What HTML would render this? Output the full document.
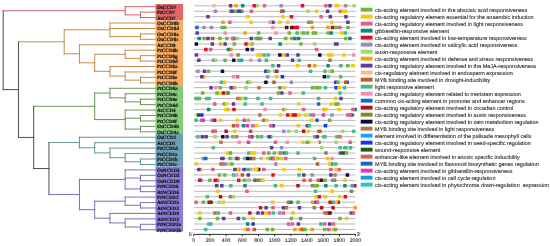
<!DOCTYPE html>
<html lang="en"><head><meta charset="utf-8"><title>CCD promoter cis-acting elements</title>
<style>html,body{margin:0;padding:0;background:#fff}body{width:550px;height:246px;overflow:hidden}svg{display:block}text{text-rendering:geometricPrecision}.lb{font-family:"Liberation Serif",serif;font-weight:bold;font-size:5px;fill:#111;stroke:#111;stroke-width:0.18px}.lg{font-family:"Liberation Sans",sans-serif;font-size:5.46px;fill:#1a1a1a;stroke:#1a1a1a;stroke-width:0.08px;white-space:pre}.ax{font-family:"Liberation Sans",sans-serif;font-size:5.2px;fill:#1a1a1a;stroke:#1a1a1a;stroke-width:0.08px}</style></head><body>
<svg width="550" height="246" viewBox="0 0 550 246">
<rect width="550" height="246" fill="#fff"/>
<g fill="none" stroke-width="0.9" stroke-linecap="square">
<line x1="140.45" y1="12.14" x2="140.45" y2="17.58" stroke="#c4505c"/>
<line x1="140.45" y1="12.14" x2="156.00" y2="12.14" stroke="#c4505c"/>
<line x1="140.45" y1="17.58" x2="156.00" y2="17.58" stroke="#c4505c"/>
<line x1="125.20" y1="6.70" x2="125.20" y2="14.86" stroke="#c4505c"/>
<line x1="125.20" y1="6.70" x2="156.00" y2="6.70" stroke="#c4505c"/>
<line x1="125.20" y1="14.86" x2="140.45" y2="14.86" stroke="#c4505c"/>
<line x1="140.45" y1="33.90" x2="140.45" y2="39.34" stroke="#c08038"/>
<line x1="140.45" y1="33.90" x2="156.00" y2="33.90" stroke="#c08038"/>
<line x1="140.45" y1="39.34" x2="156.00" y2="39.34" stroke="#c08038"/>
<line x1="109.95" y1="23.02" x2="109.95" y2="36.62" stroke="#c08038"/>
<line x1="109.95" y1="23.02" x2="156.00" y2="23.02" stroke="#c08038"/>
<line x1="109.95" y1="28.46" x2="156.00" y2="28.46" stroke="#c08038"/>
<line x1="109.95" y1="36.62" x2="140.45" y2="36.62" stroke="#c08038"/>
<line x1="140.45" y1="55.66" x2="140.45" y2="61.10" stroke="#c08038"/>
<line x1="140.45" y1="55.66" x2="156.00" y2="55.66" stroke="#c08038"/>
<line x1="140.45" y1="61.10" x2="156.00" y2="61.10" stroke="#c08038"/>
<line x1="125.20" y1="50.22" x2="125.20" y2="58.38" stroke="#c08038"/>
<line x1="125.20" y1="50.22" x2="156.00" y2="50.22" stroke="#c08038"/>
<line x1="125.20" y1="58.38" x2="140.45" y2="58.38" stroke="#c08038"/>
<line x1="140.45" y1="77.42" x2="140.45" y2="82.86" stroke="#c08038"/>
<line x1="140.45" y1="77.42" x2="156.00" y2="77.42" stroke="#c08038"/>
<line x1="140.45" y1="82.86" x2="156.00" y2="82.86" stroke="#c08038"/>
<line x1="125.20" y1="71.98" x2="125.20" y2="80.14" stroke="#c08038"/>
<line x1="125.20" y1="71.98" x2="156.00" y2="71.98" stroke="#c08038"/>
<line x1="125.20" y1="80.14" x2="140.45" y2="80.14" stroke="#c08038"/>
<line x1="109.95" y1="66.54" x2="109.95" y2="76.06" stroke="#c08038"/>
<line x1="109.95" y1="66.54" x2="156.00" y2="66.54" stroke="#c08038"/>
<line x1="109.95" y1="76.06" x2="125.20" y2="76.06" stroke="#c08038"/>
<line x1="94.70" y1="54.30" x2="94.70" y2="71.30" stroke="#c08038"/>
<line x1="94.70" y1="54.30" x2="125.20" y2="54.30" stroke="#c08038"/>
<line x1="94.70" y1="71.30" x2="109.95" y2="71.30" stroke="#c08038"/>
<line x1="79.45" y1="44.78" x2="79.45" y2="62.80" stroke="#c08038"/>
<line x1="79.45" y1="44.78" x2="156.00" y2="44.78" stroke="#c08038"/>
<line x1="79.45" y1="62.80" x2="94.70" y2="62.80" stroke="#c08038"/>
<line x1="64.20" y1="29.82" x2="64.20" y2="53.79" stroke="#c08038"/>
<line x1="64.20" y1="29.82" x2="109.95" y2="29.82" stroke="#c08038"/>
<line x1="64.20" y1="53.79" x2="79.45" y2="53.79" stroke="#c08038"/>
<line x1="140.45" y1="99.18" x2="140.45" y2="104.62" stroke="#5a8a42"/>
<line x1="140.45" y1="99.18" x2="156.00" y2="99.18" stroke="#5a8a42"/>
<line x1="140.45" y1="104.62" x2="156.00" y2="104.62" stroke="#5a8a42"/>
<line x1="125.20" y1="93.74" x2="125.20" y2="101.90" stroke="#5a8a42"/>
<line x1="125.20" y1="93.74" x2="156.00" y2="93.74" stroke="#5a8a42"/>
<line x1="125.20" y1="101.90" x2="140.45" y2="101.90" stroke="#5a8a42"/>
<line x1="109.95" y1="88.30" x2="109.95" y2="97.82" stroke="#5a8a42"/>
<line x1="109.95" y1="88.30" x2="156.00" y2="88.30" stroke="#5a8a42"/>
<line x1="109.95" y1="97.82" x2="125.20" y2="97.82" stroke="#5a8a42"/>
<line x1="140.45" y1="115.50" x2="140.45" y2="120.94" stroke="#5a8a42"/>
<line x1="140.45" y1="115.50" x2="156.00" y2="115.50" stroke="#5a8a42"/>
<line x1="140.45" y1="120.94" x2="156.00" y2="120.94" stroke="#5a8a42"/>
<line x1="140.45" y1="126.38" x2="140.45" y2="131.82" stroke="#5a8a42"/>
<line x1="140.45" y1="126.38" x2="156.00" y2="126.38" stroke="#5a8a42"/>
<line x1="140.45" y1="131.82" x2="156.00" y2="131.82" stroke="#5a8a42"/>
<line x1="125.20" y1="110.06" x2="125.20" y2="129.10" stroke="#5a8a42"/>
<line x1="125.20" y1="110.06" x2="156.00" y2="110.06" stroke="#5a8a42"/>
<line x1="125.20" y1="118.22" x2="140.45" y2="118.22" stroke="#5a8a42"/>
<line x1="125.20" y1="129.10" x2="140.45" y2="129.10" stroke="#5a8a42"/>
<line x1="94.70" y1="93.06" x2="94.70" y2="119.58" stroke="#5a8a42"/>
<line x1="94.70" y1="93.06" x2="109.95" y2="93.06" stroke="#5a8a42"/>
<line x1="94.70" y1="119.58" x2="125.20" y2="119.58" stroke="#5a8a42"/>
<line x1="140.45" y1="159.02" x2="140.45" y2="164.46" stroke="#558c8c"/>
<line x1="140.45" y1="159.02" x2="156.00" y2="159.02" stroke="#558c8c"/>
<line x1="140.45" y1="164.46" x2="156.00" y2="164.46" stroke="#558c8c"/>
<line x1="125.20" y1="153.58" x2="125.20" y2="161.74" stroke="#558c8c"/>
<line x1="125.20" y1="153.58" x2="156.00" y2="153.58" stroke="#558c8c"/>
<line x1="125.20" y1="161.74" x2="140.45" y2="161.74" stroke="#558c8c"/>
<line x1="109.95" y1="148.14" x2="109.95" y2="157.66" stroke="#558c8c"/>
<line x1="109.95" y1="148.14" x2="156.00" y2="148.14" stroke="#558c8c"/>
<line x1="109.95" y1="157.66" x2="125.20" y2="157.66" stroke="#558c8c"/>
<line x1="94.70" y1="142.70" x2="94.70" y2="152.90" stroke="#558c8c"/>
<line x1="94.70" y1="142.70" x2="156.00" y2="142.70" stroke="#558c8c"/>
<line x1="94.70" y1="152.90" x2="109.95" y2="152.90" stroke="#558c8c"/>
<line x1="79.45" y1="137.26" x2="79.45" y2="147.80" stroke="#558c8c"/>
<line x1="79.45" y1="137.26" x2="156.00" y2="137.26" stroke="#558c8c"/>
<line x1="79.45" y1="147.80" x2="94.70" y2="147.80" stroke="#558c8c"/>
<line x1="140.45" y1="175.34" x2="140.45" y2="180.78" stroke="#765eb0"/>
<line x1="140.45" y1="175.34" x2="156.00" y2="175.34" stroke="#765eb0"/>
<line x1="140.45" y1="180.78" x2="156.00" y2="180.78" stroke="#765eb0"/>
<line x1="140.45" y1="186.22" x2="140.45" y2="191.66" stroke="#765eb0"/>
<line x1="140.45" y1="186.22" x2="156.00" y2="186.22" stroke="#765eb0"/>
<line x1="140.45" y1="191.66" x2="156.00" y2="191.66" stroke="#765eb0"/>
<line x1="125.20" y1="169.90" x2="125.20" y2="188.94" stroke="#765eb0"/>
<line x1="125.20" y1="169.90" x2="156.00" y2="169.90" stroke="#765eb0"/>
<line x1="125.20" y1="178.06" x2="140.45" y2="178.06" stroke="#765eb0"/>
<line x1="125.20" y1="188.94" x2="140.45" y2="188.94" stroke="#765eb0"/>
<line x1="140.45" y1="202.54" x2="140.45" y2="207.98" stroke="#765eb0"/>
<line x1="140.45" y1="202.54" x2="156.00" y2="202.54" stroke="#765eb0"/>
<line x1="140.45" y1="207.98" x2="156.00" y2="207.98" stroke="#765eb0"/>
<line x1="125.20" y1="197.10" x2="125.20" y2="205.26" stroke="#765eb0"/>
<line x1="125.20" y1="197.10" x2="156.00" y2="197.10" stroke="#765eb0"/>
<line x1="125.20" y1="205.26" x2="140.45" y2="205.26" stroke="#765eb0"/>
<line x1="140.45" y1="224.30" x2="140.45" y2="229.74" stroke="#765eb0"/>
<line x1="140.45" y1="224.30" x2="156.00" y2="224.30" stroke="#765eb0"/>
<line x1="140.45" y1="229.74" x2="156.00" y2="229.74" stroke="#765eb0"/>
<line x1="125.20" y1="218.86" x2="125.20" y2="227.02" stroke="#765eb0"/>
<line x1="125.20" y1="218.86" x2="156.00" y2="218.86" stroke="#765eb0"/>
<line x1="125.20" y1="227.02" x2="140.45" y2="227.02" stroke="#765eb0"/>
<line x1="109.95" y1="213.42" x2="109.95" y2="222.94" stroke="#765eb0"/>
<line x1="109.95" y1="213.42" x2="156.00" y2="213.42" stroke="#765eb0"/>
<line x1="109.95" y1="222.94" x2="125.20" y2="222.94" stroke="#765eb0"/>
<line x1="94.70" y1="201.18" x2="94.70" y2="218.18" stroke="#765eb0"/>
<line x1="94.70" y1="201.18" x2="125.20" y2="201.18" stroke="#765eb0"/>
<line x1="94.70" y1="218.18" x2="109.95" y2="218.18" stroke="#765eb0"/>
<line x1="79.45" y1="179.42" x2="79.45" y2="209.68" stroke="#765eb0"/>
<line x1="79.45" y1="179.42" x2="125.20" y2="179.42" stroke="#765eb0"/>
<line x1="79.45" y1="209.68" x2="94.70" y2="209.68" stroke="#765eb0"/>
<line x1="48.95" y1="142.53" x2="48.95" y2="194.55" stroke="#3a3a3a"/>
<line x1="48.95" y1="142.53" x2="79.45" y2="142.53" stroke="#558c8c"/>
<line x1="48.95" y1="194.55" x2="79.45" y2="194.55" stroke="#765eb0"/>
<line x1="33.70" y1="106.32" x2="33.70" y2="168.54" stroke="#3a3a3a"/>
<line x1="33.70" y1="106.32" x2="94.70" y2="106.32" stroke="#5a8a42"/>
<line x1="33.70" y1="168.54" x2="48.95" y2="168.54" stroke="#3a3a3a"/>
<line x1="18.45" y1="41.81" x2="18.45" y2="137.43" stroke="#3a3a3a"/>
<line x1="18.45" y1="41.81" x2="64.20" y2="41.81" stroke="#c08038"/>
<line x1="18.45" y1="137.43" x2="33.70" y2="137.43" stroke="#3a3a3a"/>
<line x1="3.20" y1="10.78" x2="3.20" y2="89.62" stroke="#3a3a3a"/>
<line x1="3.20" y1="10.78" x2="125.20" y2="10.78" stroke="#c4505c"/>
<line x1="3.20" y1="89.62" x2="18.45" y2="89.62" stroke="#3a3a3a"/>
</g>
<rect x="155.50" y="4.00" width="27.60" height="16.30" fill="#e0666b"/>
<rect x="155.50" y="20.25" width="27.60" height="65.05" fill="#f6aa62"/>
<rect x="155.50" y="85.25" width="27.60" height="48.80" fill="#86c97a"/>
<rect x="155.50" y="134.01" width="27.60" height="32.55" fill="#6e9fb5"/>
<rect x="155.50" y="166.51" width="27.60" height="65.05" fill="#8a7cd3"/>
<g class="lb">
<text x="157.0" y="8.65">OsCCD7</text>
<text x="157.0" y="14.09">PtCCD7</text>
<text x="157.0" y="19.53">AtCCD7</text>
<text x="157.0" y="24.97">OsCCD8b</text>
<text x="157.0" y="30.41">OsCCD8d</text>
<text x="157.0" y="35.85">OsCCD8a</text>
<text x="157.0" y="41.29">OsCCD8c</text>
<text x="157.0" y="46.73">AtCCD8</text>
<text x="157.0" y="52.17">PtCCD8b</text>
<text x="157.0" y="57.61">PtCCD8g</text>
<text x="157.0" y="63.05">PtCCD8d</text>
<text x="157.0" y="68.49">PtCCD8a</text>
<text x="157.0" y="73.93">PtCCD8f</text>
<text x="157.0" y="79.37">PtCCD8e</text>
<text x="157.0" y="84.81">PtCCD8h</text>
<text x="157.0" y="90.25">PtCCD4a</text>
<text x="157.0" y="95.69">PtCCD4c</text>
<text x="157.0" y="101.13">PtCCD4e</text>
<text x="157.0" y="106.57">PtCCD4d</text>
<text x="157.0" y="112.01">AtCCD4</text>
<text x="157.0" y="117.45">PtCCD4b</text>
<text x="157.0" y="122.89">PtCCD4f</text>
<text x="157.0" y="128.33">OsCCD4b</text>
<text x="157.0" y="133.77">OsCCD4a</text>
<text x="157.0" y="139.21">OsCCD1</text>
<text x="157.0" y="144.65">AtCCD1</text>
<text x="157.0" y="150.09">PtCCD1d</text>
<text x="157.0" y="155.53">PtCCD1a</text>
<text x="157.0" y="160.97">PtCCD1b</text>
<text x="157.0" y="166.41">PtCCD1c</text>
<text x="157.0" y="171.85">OsNCED3</text>
<text x="157.0" y="177.29">OsNCED2</text>
<text x="157.0" y="182.73">OsNCED9</text>
<text x="157.0" y="188.17">PtNCED6</text>
<text x="157.0" y="193.61">AtNCED6</text>
<text x="157.0" y="199.05">PtNCED2</text>
<text x="157.0" y="204.49">AtNCED5</text>
<text x="157.0" y="209.93">AtNCED2</text>
<text x="157.0" y="215.37">AtNCED9</text>
<text x="157.0" y="220.81">AtNCED3</text>
<text x="157.0" y="226.25">PtNCED3a</text>
<text x="157.0" y="231.69">PtNCED3b</text>
</g>
<g stroke="#a8a8a8" stroke-width="0.8">
<line x1="194.10" y1="5.80" x2="355.50" y2="5.80"/>
<line x1="194.10" y1="11.25" x2="355.50" y2="11.25"/>
<line x1="194.10" y1="16.71" x2="355.50" y2="16.71"/>
<line x1="194.10" y1="22.17" x2="355.50" y2="22.17"/>
<line x1="194.10" y1="27.62" x2="355.50" y2="27.62"/>
<line x1="194.10" y1="33.07" x2="355.50" y2="33.07"/>
<line x1="194.10" y1="38.53" x2="355.50" y2="38.53"/>
<line x1="194.10" y1="43.98" x2="355.50" y2="43.98"/>
<line x1="194.10" y1="49.44" x2="355.50" y2="49.44"/>
<line x1="194.10" y1="54.89" x2="355.50" y2="54.89"/>
<line x1="194.10" y1="60.35" x2="355.50" y2="60.35"/>
<line x1="194.10" y1="65.81" x2="355.50" y2="65.81"/>
<line x1="194.10" y1="71.26" x2="355.50" y2="71.26"/>
<line x1="194.10" y1="76.72" x2="355.50" y2="76.72"/>
<line x1="194.10" y1="82.17" x2="355.50" y2="82.17"/>
<line x1="194.10" y1="87.62" x2="355.50" y2="87.62"/>
<line x1="194.10" y1="93.08" x2="355.50" y2="93.08"/>
<line x1="194.10" y1="98.53" x2="355.50" y2="98.53"/>
<line x1="194.10" y1="103.99" x2="355.50" y2="103.99"/>
<line x1="194.10" y1="109.44" x2="355.50" y2="109.44"/>
<line x1="194.10" y1="114.90" x2="355.50" y2="114.90"/>
<line x1="194.10" y1="120.36" x2="355.50" y2="120.36"/>
<line x1="194.10" y1="125.81" x2="355.50" y2="125.81"/>
<line x1="194.10" y1="131.27" x2="355.50" y2="131.27"/>
<line x1="194.10" y1="136.72" x2="355.50" y2="136.72"/>
<line x1="194.10" y1="142.18" x2="355.50" y2="142.18"/>
<line x1="194.10" y1="147.63" x2="355.50" y2="147.63"/>
<line x1="194.10" y1="153.09" x2="355.50" y2="153.09"/>
<line x1="194.10" y1="158.54" x2="355.50" y2="158.54"/>
<line x1="194.10" y1="164.00" x2="355.50" y2="164.00"/>
<line x1="194.10" y1="169.45" x2="355.50" y2="169.45"/>
<line x1="194.10" y1="174.91" x2="355.50" y2="174.91"/>
<line x1="194.10" y1="180.36" x2="355.50" y2="180.36"/>
<line x1="194.10" y1="185.82" x2="355.50" y2="185.82"/>
<line x1="194.10" y1="191.27" x2="355.50" y2="191.27"/>
<line x1="194.10" y1="196.73" x2="355.50" y2="196.73"/>
<line x1="194.10" y1="202.18" x2="355.50" y2="202.18"/>
<line x1="194.10" y1="207.64" x2="355.50" y2="207.64"/>
<line x1="194.10" y1="213.09" x2="355.50" y2="213.09"/>
<line x1="194.10" y1="218.55" x2="355.50" y2="218.55"/>
<line x1="194.10" y1="224.00" x2="355.50" y2="224.00"/>
<line x1="194.10" y1="229.46" x2="355.50" y2="229.46"/>
</g>
<g>
<rect x="212.25" y="4.05" width="3.5" height="3.5" rx="0.5" fill="#f8ba90"/>
<rect x="228.85" y="4.05" width="3.5" height="3.5" rx="0.5" fill="#5c3d97"/>
<rect x="234.25" y="4.05" width="3.5" height="3.5" rx="0.5" fill="#f59d14"/>
<rect x="240.95" y="4.05" width="3.5" height="3.5" rx="0.5" fill="#10887a"/>
<rect x="255.25" y="4.05" width="3.5" height="3.5" rx="0.5" fill="#a3d670"/>
<rect x="252.45" y="4.05" width="3.5" height="3.5" rx="0.5" fill="#e30d26"/>
<rect x="262.75" y="4.05" width="3.5" height="3.5" rx="0.5" fill="#e95a8f"/>
<rect x="279.45" y="4.05" width="3.5" height="3.5" rx="0.5" fill="#948bc4"/>
<rect x="300.75" y="4.05" width="3.5" height="3.5" rx="0.5" fill="#e30d26"/>
<rect x="324.15" y="4.05" width="3.5" height="3.5" rx="0.5" fill="#e95a8f"/>
<rect x="328.25" y="4.05" width="3.5" height="3.5" rx="0.5" fill="#5c3d97"/>
<rect x="334.60" y="4.05" width="4.8" height="3.5" rx="0.5" fill="#f7c908"/>
<rect x="343.85" y="4.05" width="3.5" height="3.5" rx="0.5" fill="#948bc4"/>
<rect x="352.45" y="4.05" width="3.5" height="3.5" rx="0.5" fill="#a3d670"/>
<rect x="213.75" y="9.50" width="3.5" height="3.5" rx="0.5" fill="#948bc4"/>
<rect x="228.95" y="9.50" width="3.5" height="3.5" rx="0.5" fill="#6cb83a"/>
<rect x="233.15" y="9.50" width="3.5" height="3.5" rx="0.5" fill="#46bb84"/>
<rect x="240.25" y="9.50" width="3.5" height="3.5" rx="0.5" fill="#6cb83a"/>
<rect x="230.25" y="9.50" width="3.5" height="3.5" rx="0.5" fill="#5c3d97"/>
<rect x="236.75" y="9.50" width="3.5" height="3.5" rx="0.5" fill="#5c3d97"/>
<rect x="238.05" y="9.50" width="3.5" height="3.5" rx="0.5" fill="#5c3d97"/>
<rect x="249.65" y="9.50" width="3.5" height="3.5" rx="0.5" fill="#e95a8f"/>
<rect x="281.25" y="9.50" width="3.5" height="3.5" rx="0.5" fill="#10887a"/>
<rect x="279.85" y="9.50" width="3.5" height="3.5" rx="0.5" fill="#c8581f"/>
<rect x="306.25" y="9.50" width="3.5" height="3.5" rx="0.5" fill="#a3d670"/>
<rect x="314.95" y="9.50" width="3.5" height="3.5" rx="0.5" fill="#f7c908"/>
<rect x="325.85" y="9.50" width="3.5" height="3.5" rx="0.5" fill="#5c3d97"/>
<rect x="338.65" y="9.50" width="3.5" height="3.5" rx="0.5" fill="#e95a8f"/>
<rect x="341.50" y="9.50" width="5.8" height="3.5" rx="0.5" fill="#f7c908"/>
<rect x="206.25" y="14.96" width="3.5" height="3.5" rx="0.5" fill="#5c3d97"/>
<rect x="245.95" y="14.96" width="3.5" height="3.5" rx="0.5" fill="#f7c908"/>
<rect x="281.25" y="14.96" width="3.5" height="3.5" rx="0.5" fill="#f7c908"/>
<rect x="289.75" y="14.96" width="3.5" height="3.5" rx="0.5" fill="#e30d26"/>
<rect x="319.45" y="14.96" width="3.5" height="3.5" rx="0.5" fill="#e95a8f"/>
<rect x="328.55" y="14.96" width="3.5" height="3.5" rx="0.5" fill="#5c3d97"/>
<rect x="344.15" y="14.96" width="3.5" height="3.5" rx="0.5" fill="#5c3d97"/>
<rect x="221.25" y="20.42" width="3.5" height="3.5" rx="0.5" fill="#f59d14"/>
<rect x="228.15" y="20.42" width="3.5" height="3.5" rx="0.5" fill="#e95a8f"/>
<rect x="249.35" y="20.42" width="3.5" height="3.5" rx="0.5" fill="#f7c908"/>
<rect x="271.25" y="20.42" width="3.5" height="3.5" rx="0.5" fill="#5c3d97"/>
<rect x="268.55" y="20.42" width="3.5" height="3.5" rx="0.5" fill="#f190b2"/>
<rect x="278.15" y="20.42" width="3.5" height="3.5" rx="0.5" fill="#f7c908"/>
<rect x="286.15" y="20.42" width="3.5" height="3.5" rx="0.5" fill="#f7c908"/>
<rect x="306.95" y="20.42" width="3.5" height="3.5" rx="0.5" fill="#e95a8f"/>
<rect x="309.65" y="20.42" width="3.5" height="3.5" rx="0.5" fill="#6cb83a"/>
<rect x="330.15" y="20.42" width="3.5" height="3.5" rx="0.5" fill="#f7c908"/>
<rect x="346.15" y="20.42" width="3.5" height="3.5" rx="0.5" fill="#5c3d97"/>
<rect x="195.15" y="25.87" width="3.5" height="3.5" rx="0.5" fill="#1269d0"/>
<rect x="202.30" y="25.87" width="3.5" height="3.5" rx="0.5" fill="#948bc4"/>
<rect x="209.65" y="25.87" width="3.5" height="3.5" rx="0.5" fill="#948bc4"/>
<rect x="220.45" y="25.87" width="3.5" height="3.5" rx="0.5" fill="#46bb84"/>
<rect x="222.85" y="25.87" width="3.5" height="3.5" rx="0.5" fill="#6cb83a"/>
<rect x="271.05" y="25.87" width="3.5" height="3.5" rx="0.5" fill="#f190b2"/>
<rect x="284.95" y="25.87" width="3.5" height="3.5" rx="0.5" fill="#5e0c0e"/>
<rect x="291.85" y="25.87" width="3.5" height="3.5" rx="0.5" fill="#10887a"/>
<rect x="290.05" y="25.87" width="3.5" height="3.5" rx="0.5" fill="#5e0c0e"/>
<rect x="294.25" y="25.87" width="3.5" height="3.5" rx="0.5" fill="#e30d26"/>
<rect x="295.55" y="25.87" width="3.5" height="3.5" rx="0.5" fill="#e30d26"/>
<rect x="310.75" y="25.87" width="3.5" height="3.5" rx="0.5" fill="#f59d14"/>
<rect x="326.25" y="25.87" width="3.5" height="3.5" rx="0.5" fill="#f59d14"/>
<rect x="330.85" y="25.87" width="3.5" height="3.5" rx="0.5" fill="#c00c16"/>
<rect x="334.45" y="25.87" width="3.5" height="3.5" rx="0.5" fill="#6cb83a"/>
<rect x="338.05" y="25.87" width="3.5" height="3.5" rx="0.5" fill="#e95a8f"/>
<rect x="346.30" y="25.87" width="3.5" height="3.5" rx="0.5" fill="#6cb83a"/>
<rect x="195.45" y="31.32" width="3.5" height="3.5" rx="0.5" fill="#5c3d97"/>
<rect x="223.55" y="31.32" width="3.5" height="3.5" rx="0.5" fill="#f190b2"/>
<rect x="243.25" y="31.32" width="3.5" height="3.5" rx="0.5" fill="#f59d14"/>
<rect x="256.95" y="31.32" width="3.5" height="3.5" rx="0.5" fill="#6cb83a"/>
<rect x="274.35" y="31.32" width="3.5" height="3.5" rx="0.5" fill="#f190b2"/>
<rect x="287.55" y="31.32" width="3.5" height="3.5" rx="0.5" fill="#6cb83a"/>
<rect x="295.45" y="31.32" width="3.5" height="3.5" rx="0.5" fill="#46bb84"/>
<rect x="299.75" y="31.32" width="3.5" height="3.5" rx="0.5" fill="#f7c908"/>
<rect x="301.85" y="31.32" width="3.5" height="3.5" rx="0.5" fill="#46bb84"/>
<rect x="305.65" y="31.32" width="3.5" height="3.5" rx="0.5" fill="#6cb83a"/>
<rect x="311.65" y="31.32" width="3.5" height="3.5" rx="0.5" fill="#6cb83a"/>
<rect x="313.85" y="31.32" width="3.5" height="3.5" rx="0.5" fill="#6cb83a"/>
<rect x="326.45" y="31.32" width="3.5" height="3.5" rx="0.5" fill="#6cb83a"/>
<rect x="329.55" y="31.32" width="3.5" height="3.5" rx="0.5" fill="#10887a"/>
<rect x="340.05" y="31.32" width="3.5" height="3.5" rx="0.5" fill="#f7c908"/>
<rect x="343.55" y="31.32" width="3.5" height="3.5" rx="0.5" fill="#46bb84"/>
<rect x="197.45" y="36.78" width="3.5" height="3.5" rx="0.5" fill="#10887a"/>
<rect x="202.30" y="36.78" width="3.5" height="3.5" rx="0.5" fill="#6cb83a"/>
<rect x="206.25" y="36.78" width="3.5" height="3.5" rx="0.5" fill="#5c3d97"/>
<rect x="210.85" y="36.78" width="3.5" height="3.5" rx="0.5" fill="#c8581f"/>
<rect x="218.05" y="36.78" width="3.5" height="3.5" rx="0.5" fill="#6cb83a"/>
<rect x="225.05" y="36.78" width="3.5" height="3.5" rx="0.5" fill="#6cb83a"/>
<rect x="232.15" y="36.78" width="3.5" height="3.5" rx="0.5" fill="#5c3d97"/>
<rect x="230.85" y="36.78" width="3.5" height="3.5" rx="0.5" fill="#e95a8f"/>
<rect x="235.65" y="36.78" width="3.5" height="3.5" rx="0.5" fill="#a3d670"/>
<rect x="249.55" y="36.78" width="3.5" height="3.5" rx="0.5" fill="#5c3d97"/>
<rect x="254.25" y="36.78" width="3.5" height="3.5" rx="0.5" fill="#6cb83a"/>
<rect x="258.85" y="36.78" width="3.5" height="3.5" rx="0.5" fill="#46bb84"/>
<rect x="256.55" y="36.78" width="3.5" height="3.5" rx="0.5" fill="#7b8b5b"/>
<rect x="268.45" y="36.78" width="3.5" height="3.5" rx="0.5" fill="#5c3d97"/>
<rect x="283.95" y="36.78" width="3.5" height="3.5" rx="0.5" fill="#6cb83a"/>
<rect x="290.10" y="36.78" width="3.5" height="3.5" rx="0.5" fill="#6cb83a"/>
<rect x="293.15" y="36.78" width="3.5" height="3.5" rx="0.5" fill="#10887a"/>
<rect x="296.95" y="36.78" width="3.5" height="3.5" rx="0.5" fill="#10887a"/>
<rect x="343.85" y="36.78" width="3.5" height="3.5" rx="0.5" fill="#6cb83a"/>
<rect x="348.15" y="36.78" width="3.5" height="3.5" rx="0.5" fill="#10887a"/>
<rect x="194.65" y="42.23" width="3.5" height="3.5" rx="0.5" fill="#0b0b3d"/>
<rect x="210.55" y="42.23" width="3.5" height="3.5" rx="0.5" fill="#5c3d97"/>
<rect x="218.75" y="42.23" width="3.5" height="3.5" rx="0.5" fill="#f59d14"/>
<rect x="223.35" y="42.23" width="3.5" height="3.5" rx="0.5" fill="#5c3d97"/>
<rect x="232.55" y="42.23" width="3.5" height="3.5" rx="0.5" fill="#6cb83a"/>
<rect x="244.25" y="42.23" width="3.5" height="3.5" rx="0.5" fill="#e30d26"/>
<rect x="250.05" y="42.23" width="3.5" height="3.5" rx="0.5" fill="#6cb83a"/>
<rect x="248.25" y="42.23" width="3.5" height="3.5" rx="0.5" fill="#f7c908"/>
<rect x="278.35" y="42.23" width="3.5" height="3.5" rx="0.5" fill="#10887a"/>
<rect x="299.25" y="42.23" width="3.5" height="3.5" rx="0.5" fill="#6cb83a"/>
<rect x="313.05" y="42.23" width="3.5" height="3.5" rx="0.5" fill="#a3d670"/>
<rect x="333.85" y="42.23" width="4.9" height="3.5" rx="0.5" fill="#5c3d97"/>
<rect x="204.05" y="47.69" width="3.5" height="3.5" rx="0.5" fill="#e30d26"/>
<rect x="208.85" y="47.69" width="3.5" height="3.5" rx="0.5" fill="#e95a8f"/>
<rect x="229.15" y="47.69" width="3.5" height="3.5" rx="0.5" fill="#f59d14"/>
<rect x="226.65" y="47.69" width="3.5" height="3.5" rx="0.5" fill="#10887a"/>
<rect x="245.55" y="47.69" width="3.5" height="3.5" rx="0.5" fill="#0b0b3d"/>
<rect x="250.55" y="47.69" width="3.5" height="3.5" rx="0.5" fill="#5c3d97"/>
<rect x="314.85" y="47.69" width="3.5" height="3.5" rx="0.5" fill="#e95a8f"/>
<rect x="194.65" y="53.14" width="3.5" height="3.5" rx="0.5" fill="#5c3d97"/>
<rect x="229.45" y="53.14" width="3.5" height="3.5" rx="0.5" fill="#f190b2"/>
<rect x="236.35" y="53.14" width="3.5" height="3.5" rx="0.5" fill="#b07a42"/>
<rect x="256.25" y="53.14" width="3.5" height="3.5" rx="0.5" fill="#f7c908"/>
<rect x="258.95" y="53.14" width="3.5" height="3.5" rx="0.5" fill="#f7c908"/>
<rect x="262.35" y="53.14" width="3.5" height="3.5" rx="0.5" fill="#46bb84"/>
<rect x="266.55" y="53.14" width="3.5" height="3.5" rx="0.5" fill="#46bb84"/>
<rect x="278.15" y="53.14" width="3.5" height="3.5" rx="0.5" fill="#0b0b3d"/>
<rect x="282.15" y="53.14" width="3.5" height="3.5" rx="0.5" fill="#f7c908"/>
<rect x="285.55" y="53.14" width="3.5" height="3.5" rx="0.5" fill="#5c3d97"/>
<rect x="296.25" y="53.14" width="3.5" height="3.5" rx="0.5" fill="#5c3d97"/>
<rect x="318.05" y="53.14" width="3.5" height="3.5" rx="0.5" fill="#0b0b3d"/>
<rect x="327.10" y="53.14" width="6.6" height="3.5" rx="0.5" fill="#f7c908"/>
<rect x="342.05" y="53.14" width="3.5" height="3.5" rx="0.5" fill="#f7c908"/>
<rect x="351.95" y="53.14" width="3.5" height="3.5" rx="0.5" fill="#f190b2"/>
<rect x="197.15" y="58.60" width="3.5" height="3.5" rx="0.5" fill="#5c3d97"/>
<rect x="211.65" y="58.60" width="3.5" height="3.5" rx="0.5" fill="#948bc4"/>
<rect x="213.95" y="58.60" width="3.5" height="3.5" rx="0.5" fill="#a3d670"/>
<rect x="223.35" y="58.60" width="3.5" height="3.5" rx="0.5" fill="#6cb83a"/>
<rect x="232.05" y="58.60" width="3.5" height="3.5" rx="0.5" fill="#0b0b3d"/>
<rect x="237.15" y="58.60" width="3.5" height="3.5" rx="0.5" fill="#46bb84"/>
<rect x="239.85" y="58.60" width="3.5" height="3.5" rx="0.5" fill="#14aaf0"/>
<rect x="249.05" y="58.60" width="3.5" height="3.5" rx="0.5" fill="#f190b2"/>
<rect x="257.75" y="58.60" width="3.5" height="3.5" rx="0.5" fill="#948bc4"/>
<rect x="264.65" y="58.60" width="3.5" height="3.5" rx="0.5" fill="#46bb84"/>
<rect x="290.85" y="58.60" width="3.5" height="3.5" rx="0.5" fill="#5c3d97"/>
<rect x="297.45" y="58.60" width="3.5" height="3.5" rx="0.5" fill="#46bb84"/>
<rect x="328.25" y="58.60" width="3.5" height="3.5" rx="0.5" fill="#b07a42"/>
<rect x="271.15" y="64.06" width="3.5" height="3.5" rx="0.5" fill="#46bb84"/>
<rect x="276.85" y="64.06" width="3.5" height="3.5" rx="0.5" fill="#5c3d97"/>
<rect x="295.95" y="64.06" width="3.5" height="3.5" rx="0.5" fill="#f7c908"/>
<rect x="307.65" y="64.06" width="3.5" height="3.5" rx="0.5" fill="#c8581f"/>
<rect x="313.05" y="64.06" width="3.5" height="3.5" rx="0.5" fill="#f59d14"/>
<rect x="326.35" y="64.06" width="3.5" height="3.5" rx="0.5" fill="#10887a"/>
<rect x="339.05" y="64.06" width="3.5" height="3.5" rx="0.5" fill="#46bb84"/>
<rect x="346.05" y="64.06" width="3.5" height="3.5" rx="0.5" fill="#6cb83a"/>
<rect x="351.15" y="64.06" width="3.5" height="3.5" rx="0.5" fill="#f7c908"/>
<rect x="196.15" y="69.51" width="3.5" height="3.5" rx="0.5" fill="#948bc4"/>
<rect x="202.75" y="69.51" width="3.5" height="3.5" rx="0.5" fill="#5c3d97"/>
<rect x="206.85" y="69.51" width="3.5" height="3.5" rx="0.5" fill="#6cb83a"/>
<rect x="220.75" y="69.51" width="3.5" height="3.5" rx="0.5" fill="#0b0b3d"/>
<rect x="264.15" y="69.51" width="3.5" height="3.5" rx="0.5" fill="#1a34e0"/>
<rect x="266.45" y="69.51" width="3.5" height="3.5" rx="0.5" fill="#6cb83a"/>
<rect x="273.25" y="69.51" width="3.5" height="3.5" rx="0.5" fill="#f59d14"/>
<rect x="275.05" y="69.51" width="3.5" height="3.5" rx="0.5" fill="#5c3d97"/>
<rect x="308.75" y="69.51" width="3.5" height="3.5" rx="0.5" fill="#46bb84"/>
<rect x="323.25" y="69.51" width="3.5" height="3.5" rx="0.5" fill="#46bb84"/>
<rect x="327.95" y="69.51" width="3.5" height="3.5" rx="0.5" fill="#f8ba90"/>
<rect x="330.55" y="69.51" width="3.5" height="3.5" rx="0.5" fill="#6cb83a"/>
<rect x="202.25" y="74.97" width="3.5" height="3.5" rx="0.5" fill="#f7c908"/>
<rect x="200.05" y="74.97" width="3.5" height="3.5" rx="0.5" fill="#5c3d97"/>
<rect x="231.75" y="74.97" width="3.5" height="3.5" rx="0.5" fill="#f190b2"/>
<rect x="235.85" y="74.97" width="3.5" height="3.5" rx="0.5" fill="#e95a8f"/>
<rect x="265.85" y="74.97" width="3.5" height="3.5" rx="0.5" fill="#948bc4"/>
<rect x="274.85" y="74.97" width="3.5" height="3.5" rx="0.5" fill="#f7c908"/>
<rect x="280.65" y="74.97" width="3.5" height="3.5" rx="0.5" fill="#1a34e0"/>
<rect x="322.65" y="74.97" width="3.5" height="3.5" rx="0.5" fill="#0b0b3d"/>
<rect x="326.45" y="74.97" width="3.5" height="3.5" rx="0.5" fill="#46bb84"/>
<rect x="338.95" y="74.97" width="3.5" height="3.5" rx="0.5" fill="#6cb83a"/>
<rect x="219.55" y="80.42" width="3.5" height="3.5" rx="0.5" fill="#46bb84"/>
<rect x="222.95" y="80.42" width="3.5" height="3.5" rx="0.5" fill="#f7c908"/>
<rect x="245.95" y="80.42" width="3.5" height="3.5" rx="0.5" fill="#46bb84"/>
<rect x="248.55" y="80.42" width="3.5" height="3.5" rx="0.5" fill="#f7c908"/>
<rect x="264.15" y="80.42" width="3.5" height="3.5" rx="0.5" fill="#0b0b3d"/>
<rect x="272.25" y="80.42" width="3.5" height="3.5" rx="0.5" fill="#c8581f"/>
<rect x="289.65" y="80.42" width="3.5" height="3.5" rx="0.5" fill="#948bc4"/>
<rect x="334.05" y="80.42" width="3.5" height="3.5" rx="0.5" fill="#1a34e0"/>
<rect x="336.25" y="80.42" width="3.5" height="3.5" rx="0.5" fill="#6cb83a"/>
<rect x="345.45" y="80.42" width="3.5" height="3.5" rx="0.5" fill="#5c3d97"/>
<rect x="344.05" y="80.42" width="3.5" height="3.5" rx="0.5" fill="#c8581f"/>
<rect x="209.35" y="85.88" width="3.5" height="3.5" rx="0.5" fill="#5c3d97"/>
<rect x="213.95" y="85.88" width="3.5" height="3.5" rx="0.5" fill="#f190b2"/>
<rect x="218.45" y="85.88" width="3.5" height="3.5" rx="0.5" fill="#6cb83a"/>
<rect x="232.55" y="85.88" width="3.5" height="3.5" rx="0.5" fill="#f59d14"/>
<rect x="229.45" y="85.88" width="3.5" height="3.5" rx="0.5" fill="#5c3d97"/>
<rect x="244.45" y="85.88" width="3.5" height="3.5" rx="0.5" fill="#a3d670"/>
<rect x="257.25" y="85.88" width="3.5" height="3.5" rx="0.5" fill="#b07a42"/>
<rect x="278.15" y="85.88" width="3.5" height="3.5" rx="0.5" fill="#7b8b5b"/>
<rect x="282.45" y="85.88" width="3.5" height="3.5" rx="0.5" fill="#f7c908"/>
<rect x="310.75" y="85.88" width="3.5" height="3.5" rx="0.5" fill="#6cb83a"/>
<rect x="314.55" y="85.88" width="3.5" height="3.5" rx="0.5" fill="#6cb83a"/>
<rect x="317.85" y="85.88" width="3.5" height="3.5" rx="0.5" fill="#6cb83a"/>
<rect x="323.70" y="85.88" width="3.5" height="3.5" rx="0.5" fill="#46bb84"/>
<rect x="334.35" y="85.88" width="3.5" height="3.5" rx="0.5" fill="#1a34e0"/>
<rect x="337.45" y="85.88" width="3.5" height="3.5" rx="0.5" fill="#f7c908"/>
<rect x="342.75" y="85.88" width="3.5" height="3.5" rx="0.5" fill="#46bb84"/>
<rect x="200.95" y="91.33" width="3.5" height="3.5" rx="0.5" fill="#6cb83a"/>
<rect x="217.55" y="91.33" width="3.5" height="3.5" rx="0.5" fill="#f7c908"/>
<rect x="215.20" y="91.33" width="3.5" height="3.5" rx="0.5" fill="#6cb83a"/>
<rect x="221.70" y="91.33" width="3.5" height="3.5" rx="0.5" fill="#c00c16"/>
<rect x="225.55" y="91.33" width="3.5" height="3.5" rx="0.5" fill="#6cb83a"/>
<rect x="226.65" y="91.33" width="3.5" height="3.5" rx="0.5" fill="#6cb83a"/>
<rect x="227.40" y="91.33" width="0.8" height="3.5" rx="0.3" fill="#176010"/>
<rect x="276.65" y="91.33" width="3.5" height="3.5" rx="0.5" fill="#6cb83a"/>
<rect x="280.15" y="91.33" width="3.5" height="3.5" rx="0.5" fill="#5c3d97"/>
<rect x="288.25" y="91.33" width="3.5" height="3.5" rx="0.5" fill="#e95a8f"/>
<rect x="301.55" y="91.33" width="3.5" height="3.5" rx="0.5" fill="#46bb84"/>
<rect x="338.25" y="91.33" width="3.5" height="3.5" rx="0.5" fill="#46bb84"/>
<rect x="197.55" y="96.78" width="3.5" height="3.5" rx="0.5" fill="#6cb83a"/>
<rect x="194.15" y="96.78" width="3.5" height="3.5" rx="0.5" fill="#46bb84"/>
<rect x="195.95" y="96.78" width="3.5" height="3.5" rx="0.5" fill="#46bb84"/>
<rect x="205.05" y="96.78" width="3.5" height="3.5" rx="0.5" fill="#46bb84"/>
<rect x="207.25" y="96.78" width="3.5" height="3.5" rx="0.5" fill="#46bb84"/>
<rect x="236.05" y="96.78" width="3.5" height="3.5" rx="0.5" fill="#e35c4e"/>
<rect x="238.65" y="96.78" width="3.5" height="3.5" rx="0.5" fill="#6cb83a"/>
<rect x="240.95" y="96.78" width="3.5" height="3.5" rx="0.5" fill="#f7c908"/>
<rect x="243.95" y="96.78" width="3.5" height="3.5" rx="0.5" fill="#46bb84"/>
<rect x="256.25" y="96.78" width="3.5" height="3.5" rx="0.5" fill="#46bb84"/>
<rect x="268.85" y="96.78" width="3.5" height="3.5" rx="0.5" fill="#46bb84"/>
<rect x="316.85" y="96.78" width="3.5" height="3.5" rx="0.5" fill="#46bb84"/>
<rect x="333.65" y="96.78" width="3.5" height="3.5" rx="0.5" fill="#f7c908"/>
<rect x="339.25" y="96.78" width="3.5" height="3.5" rx="0.5" fill="#5c3d97"/>
<rect x="212.95" y="102.24" width="3.5" height="3.5" rx="0.5" fill="#e95a8f"/>
<rect x="222.45" y="102.24" width="3.5" height="3.5" rx="0.5" fill="#6cb83a"/>
<rect x="224.90" y="102.24" width="3.5" height="3.5" rx="0.5" fill="#f7c908"/>
<rect x="231.75" y="102.24" width="3.5" height="3.5" rx="0.5" fill="#5c3d97"/>
<rect x="243.55" y="102.24" width="3.5" height="3.5" rx="0.5" fill="#46bb84"/>
<rect x="260.25" y="102.24" width="3.5" height="3.5" rx="0.5" fill="#46bb84"/>
<rect x="296.95" y="102.24" width="3.5" height="3.5" rx="0.5" fill="#f7c908"/>
<rect x="316.85" y="102.24" width="3.5" height="3.5" rx="0.5" fill="#0e6aba"/>
<rect x="329.55" y="102.24" width="3.5" height="3.5" rx="0.5" fill="#f7c908"/>
<rect x="334.05" y="102.24" width="3.5" height="3.5" rx="0.5" fill="#6cb83a"/>
<rect x="336.25" y="102.24" width="3.5" height="3.5" rx="0.5" fill="#6cb83a"/>
<rect x="206.85" y="107.69" width="3.5" height="3.5" rx="0.5" fill="#10887a"/>
<rect x="225.85" y="107.69" width="3.5" height="3.5" rx="0.5" fill="#f59d14"/>
<rect x="224.15" y="107.69" width="3.5" height="3.5" rx="0.5" fill="#f7c908"/>
<rect x="232.25" y="107.69" width="3.5" height="3.5" rx="0.5" fill="#e30d26"/>
<rect x="263.35" y="107.69" width="3.5" height="3.5" rx="0.5" fill="#f190b2"/>
<rect x="282.20" y="107.69" width="2.6" height="3.5" rx="0.5" fill="#e35c4e"/>
<rect x="283.75" y="107.69" width="2.7" height="3.5" rx="0.5" fill="#a3d670"/>
<rect x="301.85" y="107.69" width="3.5" height="3.5" rx="0.5" fill="#e95a8f"/>
<rect x="322.65" y="107.69" width="3.5" height="3.5" rx="0.5" fill="#f59d14"/>
<rect x="324.05" y="107.69" width="3.5" height="3.5" rx="0.5" fill="#f7c908"/>
<rect x="337.45" y="107.69" width="3.5" height="3.5" rx="0.5" fill="#f7c908"/>
<rect x="353.45" y="107.69" width="3.5" height="3.5" rx="0.5" fill="#10887a"/>
<rect x="351.15" y="107.69" width="3.5" height="3.5" rx="0.5" fill="#e95a8f"/>
<rect x="196.65" y="113.15" width="3.5" height="3.5" rx="0.5" fill="#176010"/>
<rect x="200.05" y="113.15" width="3.5" height="3.5" rx="0.5" fill="#1a34e0"/>
<rect x="258.15" y="113.15" width="3.5" height="3.5" rx="0.5" fill="#b07a42"/>
<rect x="278.65" y="113.15" width="3.5" height="3.5" rx="0.5" fill="#f7c908"/>
<rect x="288.85" y="113.15" width="3.5" height="3.5" rx="0.5" fill="#f7c908"/>
<rect x="285.95" y="113.15" width="3.5" height="3.5" rx="0.5" fill="#e30d26"/>
<rect x="291.65" y="113.15" width="3.5" height="3.5" rx="0.5" fill="#e30d26"/>
<rect x="293.75" y="113.15" width="3.5" height="3.5" rx="0.5" fill="#e30d26"/>
<rect x="297.25" y="113.15" width="3.5" height="3.5" rx="0.5" fill="#f7c908"/>
<rect x="304.15" y="113.15" width="3.5" height="3.5" rx="0.5" fill="#f7c908"/>
<rect x="308.75" y="113.15" width="3.5" height="3.5" rx="0.5" fill="#46bb84"/>
<rect x="311.75" y="113.15" width="3.5" height="3.5" rx="0.5" fill="#e95a8f"/>
<rect x="321.75" y="113.15" width="3.5" height="3.5" rx="0.5" fill="#e434ba"/>
<rect x="330.15" y="113.15" width="3.5" height="3.5" rx="0.5" fill="#948bc4"/>
<rect x="350.25" y="113.15" width="3.5" height="3.5" rx="0.5" fill="#5c3d97"/>
<rect x="346.05" y="113.15" width="3.5" height="3.5" rx="0.5" fill="#e95a8f"/>
<rect x="348.25" y="113.15" width="3.5" height="3.5" rx="0.5" fill="#e95a8f"/>
<rect x="194.35" y="118.61" width="3.5" height="3.5" rx="0.5" fill="#46bb84"/>
<rect x="199.70" y="118.61" width="3.5" height="3.5" rx="0.5" fill="#e95a8f"/>
<rect x="201.65" y="118.61" width="3.5" height="3.5" rx="0.5" fill="#e434ba"/>
<rect x="210.35" y="118.61" width="3.5" height="3.5" rx="0.5" fill="#948bc4"/>
<rect x="212.95" y="118.61" width="3.5" height="3.5" rx="0.5" fill="#e30d26"/>
<rect x="218.75" y="118.61" width="3.5" height="3.5" rx="0.5" fill="#f7c908"/>
<rect x="235.55" y="118.61" width="3.5" height="3.5" rx="0.5" fill="#f7c908"/>
<rect x="242.45" y="118.61" width="3.5" height="3.5" rx="0.5" fill="#e434ba"/>
<rect x="246.55" y="118.61" width="3.5" height="3.5" rx="0.5" fill="#f59d14"/>
<rect x="261.85" y="118.61" width="3.5" height="3.5" rx="0.5" fill="#b07a42"/>
<rect x="265.05" y="118.61" width="3.5" height="3.5" rx="0.5" fill="#f7c908"/>
<rect x="309.65" y="118.61" width="3.5" height="3.5" rx="0.5" fill="#f7c908"/>
<rect x="315.30" y="118.61" width="3.5" height="3.5" rx="0.5" fill="#0e6aba"/>
<rect x="327.95" y="118.61" width="3.5" height="3.5" rx="0.5" fill="#6cb83a"/>
<rect x="231.75" y="124.06" width="3.5" height="3.5" rx="0.5" fill="#c8581f"/>
<rect x="235.55" y="124.06" width="3.5" height="3.5" rx="0.5" fill="#e95a8f"/>
<rect x="241.70" y="124.06" width="3.5" height="3.5" rx="0.5" fill="#10887a"/>
<rect x="245.55" y="124.06" width="3.5" height="3.5" rx="0.5" fill="#e434ba"/>
<rect x="251.15" y="124.06" width="3.5" height="3.5" rx="0.5" fill="#e95a8f"/>
<rect x="254.95" y="124.06" width="3.5" height="3.5" rx="0.5" fill="#f7c908"/>
<rect x="271.55" y="124.06" width="3.5" height="3.5" rx="0.5" fill="#5c3d97"/>
<rect x="269.05" y="124.06" width="3.5" height="3.5" rx="0.5" fill="#e95a8f"/>
<rect x="296.65" y="124.06" width="3.5" height="3.5" rx="0.5" fill="#f7c908"/>
<rect x="305.65" y="124.06" width="3.5" height="3.5" rx="0.5" fill="#5c3d97"/>
<rect x="307.65" y="124.06" width="3.5" height="3.5" rx="0.5" fill="#46bb84"/>
<rect x="323.70" y="124.06" width="3.5" height="3.5" rx="0.5" fill="#1a34e0"/>
<rect x="211.15" y="129.52" width="3.5" height="3.5" rx="0.5" fill="#e35c4e"/>
<rect x="213.45" y="129.52" width="3.5" height="3.5" rx="0.5" fill="#e95a8f"/>
<rect x="224.45" y="129.52" width="3.5" height="3.5" rx="0.5" fill="#c00c16"/>
<rect x="233.00" y="129.52" width="3.5" height="3.5" rx="0.5" fill="#f7c908"/>
<rect x="248.85" y="129.52" width="3.5" height="3.5" rx="0.5" fill="#c8581f"/>
<rect x="282.05" y="129.52" width="3.5" height="3.5" rx="0.5" fill="#948bc4"/>
<rect x="287.05" y="129.52" width="3.5" height="3.5" rx="0.5" fill="#a3d670"/>
<rect x="294.65" y="129.52" width="3.5" height="3.5" rx="0.5" fill="#a3d670"/>
<rect x="301.85" y="129.52" width="3.5" height="3.5" rx="0.5" fill="#c00c16"/>
<rect x="306.55" y="129.52" width="3.5" height="3.5" rx="0.5" fill="#f7c908"/>
<rect x="317.30" y="129.52" width="4.4" height="3.5" rx="0.5" fill="#c8581f"/>
<rect x="340.95" y="129.52" width="3.5" height="3.5" rx="0.5" fill="#a3d670"/>
<rect x="351.95" y="129.52" width="3.5" height="3.5" rx="0.5" fill="#46bb84"/>
<rect x="196.15" y="134.97" width="3.5" height="3.5" rx="0.5" fill="#46bb84"/>
<rect x="200.55" y="134.97" width="3.5" height="3.5" rx="0.5" fill="#5c3d97"/>
<rect x="204.35" y="134.97" width="3.5" height="3.5" rx="0.5" fill="#5c3d97"/>
<rect x="213.45" y="134.97" width="3.5" height="3.5" rx="0.5" fill="#a3d670"/>
<rect x="221.05" y="134.97" width="3.5" height="3.5" rx="0.5" fill="#0b0b3d"/>
<rect x="225.35" y="134.97" width="3.5" height="3.5" rx="0.5" fill="#5c3d97"/>
<rect x="231.05" y="134.97" width="3.5" height="3.5" rx="0.5" fill="#6cb83a"/>
<rect x="234.85" y="134.97" width="3.5" height="3.5" rx="0.5" fill="#e95a8f"/>
<rect x="250.10" y="134.97" width="3.5" height="3.5" rx="0.5" fill="#5c3d97"/>
<rect x="247.85" y="134.97" width="3.5" height="3.5" rx="0.5" fill="#e35c4e"/>
<rect x="255.90" y="134.97" width="3.5" height="3.5" rx="0.5" fill="#6cb83a"/>
<rect x="259.75" y="134.97" width="3.5" height="3.5" rx="0.5" fill="#46bb84"/>
<rect x="268.95" y="134.97" width="3.5" height="3.5" rx="0.5" fill="#46bb84"/>
<rect x="267.25" y="134.97" width="3.5" height="3.5" rx="0.5" fill="#5c3d97"/>
<rect x="313.05" y="134.97" width="3.5" height="3.5" rx="0.5" fill="#6cb83a"/>
<rect x="315.65" y="134.97" width="3.5" height="3.5" rx="0.5" fill="#5c3d97"/>
<rect x="322.10" y="134.97" width="4.6" height="3.5" rx="0.5" fill="#46bb84"/>
<rect x="335.15" y="134.97" width="3.5" height="3.5" rx="0.5" fill="#6cb83a"/>
<rect x="338.25" y="134.97" width="3.5" height="3.5" rx="0.5" fill="#e95a8f"/>
<rect x="211.15" y="140.43" width="3.5" height="3.5" rx="0.5" fill="#fbe4c4"/>
<rect x="219.25" y="140.43" width="3.5" height="3.5" rx="0.5" fill="#b07a42"/>
<rect x="237.55" y="140.43" width="3.5" height="3.5" rx="0.5" fill="#f190b2"/>
<rect x="246.75" y="140.43" width="3.5" height="3.5" rx="0.5" fill="#e434ba"/>
<rect x="273.65" y="140.43" width="3.5" height="3.5" rx="0.5" fill="#e95a8f"/>
<rect x="285.55" y="140.43" width="3.5" height="3.5" rx="0.5" fill="#f190b2"/>
<rect x="295.75" y="140.43" width="3.5" height="3.5" rx="0.5" fill="#fbe4c4"/>
<rect x="301.25" y="140.43" width="3.5" height="3.5" rx="0.5" fill="#f7c908"/>
<rect x="307.35" y="140.43" width="3.5" height="3.5" rx="0.5" fill="#f7c908"/>
<rect x="305.35" y="140.43" width="3.5" height="3.5" rx="0.5" fill="#46bb84"/>
<rect x="317.25" y="140.43" width="3.5" height="3.5" rx="0.5" fill="#7b8b5b"/>
<rect x="315.30" y="140.43" width="3.5" height="3.5" rx="0.5" fill="#fbe4c4"/>
<rect x="334.35" y="140.43" width="3.5" height="3.5" rx="0.5" fill="#a3d670"/>
<rect x="345.05" y="140.43" width="3.5" height="3.5" rx="0.5" fill="#fbe4c4"/>
<rect x="348.45" y="140.43" width="3.5" height="3.5" rx="0.5" fill="#e95a8f"/>
<rect x="211.65" y="145.88" width="3.5" height="3.5" rx="0.5" fill="#46bb84"/>
<rect x="269.85" y="145.88" width="3.5" height="3.5" rx="0.5" fill="#5c3d97"/>
<rect x="279.85" y="145.88" width="3.5" height="3.5" rx="0.5" fill="#948bc4"/>
<rect x="319.85" y="145.88" width="3.5" height="3.5" rx="0.5" fill="#a3d670"/>
<rect x="338.45" y="145.88" width="3.5" height="3.5" rx="0.5" fill="#46bb84"/>
<rect x="343.10" y="145.88" width="4.6" height="3.5" rx="0.5" fill="#46bb84"/>
<rect x="348.75" y="145.88" width="3.5" height="3.5" rx="0.5" fill="#46bb84"/>
<rect x="225.65" y="151.34" width="3.5" height="3.5" rx="0.5" fill="#f7c908"/>
<rect x="228.75" y="151.34" width="3.5" height="3.5" rx="0.5" fill="#6cb83a"/>
<rect x="247.05" y="151.34" width="3.5" height="3.5" rx="0.5" fill="#46bb84"/>
<rect x="250.10" y="151.34" width="3.5" height="3.5" rx="0.5" fill="#f7c908"/>
<rect x="252.65" y="151.34" width="3.5" height="3.5" rx="0.5" fill="#f7c908"/>
<rect x="262.05" y="151.34" width="3.5" height="3.5" rx="0.5" fill="#e95a8f"/>
<rect x="266.95" y="151.34" width="3.5" height="3.5" rx="0.5" fill="#6cb83a"/>
<rect x="272.65" y="151.34" width="3.5" height="3.5" rx="0.5" fill="#6cb83a"/>
<rect x="277.55" y="151.34" width="3.5" height="3.5" rx="0.5" fill="#a3d670"/>
<rect x="278.85" y="151.34" width="3.5" height="3.5" rx="0.5" fill="#e95a8f"/>
<rect x="282.45" y="151.34" width="3.5" height="3.5" rx="0.5" fill="#10887a"/>
<rect x="284.75" y="151.34" width="3.5" height="3.5" rx="0.5" fill="#46bb84"/>
<rect x="296.25" y="151.34" width="3.5" height="3.5" rx="0.5" fill="#46bb84"/>
<rect x="324.25" y="151.34" width="3.5" height="3.5" rx="0.5" fill="#7b8b5b"/>
<rect x="338.75" y="151.34" width="3.5" height="3.5" rx="0.5" fill="#5c3d97"/>
<rect x="341.75" y="151.34" width="3.5" height="3.5" rx="0.5" fill="#176010"/>
<rect x="344.65" y="151.34" width="3.5" height="3.5" rx="0.5" fill="#6cb83a"/>
<rect x="201.65" y="156.79" width="3.5" height="3.5" rx="0.5" fill="#948bc4"/>
<rect x="203.95" y="156.79" width="3.5" height="3.5" rx="0.5" fill="#1269d0"/>
<rect x="220.10" y="156.79" width="4.6" height="3.5" rx="0.5" fill="#5c3d97"/>
<rect x="228.45" y="156.79" width="3.5" height="3.5" rx="0.5" fill="#46bb84"/>
<rect x="231.75" y="156.79" width="3.5" height="3.5" rx="0.5" fill="#f8ba90"/>
<rect x="236.35" y="156.79" width="3.5" height="3.5" rx="0.5" fill="#b07a42"/>
<rect x="235.05" y="156.79" width="3.5" height="3.5" rx="0.5" fill="#5c3d97"/>
<rect x="243.25" y="156.79" width="3.5" height="3.5" rx="0.5" fill="#46bb84"/>
<rect x="246.25" y="156.79" width="3.5" height="3.5" rx="0.5" fill="#0b0b3d"/>
<rect x="249.35" y="156.79" width="3.5" height="3.5" rx="0.5" fill="#5c3d97"/>
<rect x="252.05" y="156.79" width="3.5" height="3.5" rx="0.5" fill="#b07a42"/>
<rect x="259.55" y="156.79" width="3.5" height="3.5" rx="0.5" fill="#a3d670"/>
<rect x="265.95" y="156.79" width="3.5" height="3.5" rx="0.5" fill="#f7c908"/>
<rect x="268.65" y="156.79" width="3.5" height="3.5" rx="0.5" fill="#46bb84"/>
<rect x="271.25" y="156.79" width="3.5" height="3.5" rx="0.5" fill="#5c3d97"/>
<rect x="272.05" y="156.79" width="3.5" height="3.5" rx="0.5" fill="#e95a8f"/>
<rect x="275.85" y="156.79" width="3.5" height="3.5" rx="0.5" fill="#6cb83a"/>
<rect x="274.55" y="156.79" width="3.5" height="3.5" rx="0.5" fill="#f7c908"/>
<rect x="279.85" y="156.79" width="3.5" height="3.5" rx="0.5" fill="#f7c908"/>
<rect x="283.95" y="156.79" width="3.5" height="3.5" rx="0.5" fill="#e95a8f"/>
<rect x="312.75" y="156.79" width="3.5" height="3.5" rx="0.5" fill="#46bb84"/>
<rect x="325.95" y="156.79" width="3.5" height="3.5" rx="0.5" fill="#f7c908"/>
<rect x="330.25" y="156.79" width="3.5" height="3.5" rx="0.5" fill="#f190b2"/>
<rect x="194.65" y="162.25" width="3.5" height="3.5" rx="0.5" fill="#f7c908"/>
<rect x="219.15" y="162.25" width="3.5" height="3.5" rx="0.5" fill="#e35c4e"/>
<rect x="221.15" y="162.25" width="3.5" height="3.5" rx="0.5" fill="#b07a42"/>
<rect x="223.95" y="162.25" width="3.5" height="3.5" rx="0.5" fill="#948bc4"/>
<rect x="227.95" y="162.25" width="3.5" height="3.5" rx="0.5" fill="#f7c908"/>
<rect x="230.25" y="162.25" width="3.5" height="3.5" rx="0.5" fill="#46bb84"/>
<rect x="274.05" y="162.25" width="3.5" height="3.5" rx="0.5" fill="#948bc4"/>
<rect x="315.75" y="162.25" width="3.5" height="3.5" rx="0.5" fill="#c8581f"/>
<rect x="329.85" y="162.25" width="3.5" height="3.5" rx="0.5" fill="#10887a"/>
<rect x="327.95" y="162.25" width="3.5" height="3.5" rx="0.5" fill="#f7c908"/>
<rect x="334.05" y="162.25" width="3.5" height="3.5" rx="0.5" fill="#46bb84"/>
<rect x="198.85" y="167.70" width="3.5" height="3.5" rx="0.5" fill="#f7c908"/>
<rect x="197.15" y="167.70" width="3.5" height="3.5" rx="0.5" fill="#5c3d97"/>
<rect x="211.15" y="167.70" width="3.5" height="3.5" rx="0.5" fill="#e95a8f"/>
<rect x="236.95" y="167.70" width="3.5" height="3.5" rx="0.5" fill="#e95a8f"/>
<rect x="235.65" y="167.70" width="3.5" height="3.5" rx="0.5" fill="#f7c908"/>
<rect x="233.15" y="167.70" width="3.5" height="3.5" rx="0.5" fill="#5c3d97"/>
<rect x="242.25" y="167.70" width="3.5" height="3.5" rx="0.5" fill="#5c3d97"/>
<rect x="248.95" y="167.70" width="3.5" height="3.5" rx="0.5" fill="#f190b2"/>
<rect x="246.15" y="167.70" width="3.5" height="3.5" rx="0.5" fill="#46bb84"/>
<rect x="256.75" y="167.70" width="3.5" height="3.5" rx="0.5" fill="#0b0b3d"/>
<rect x="253.55" y="167.70" width="3.5" height="3.5" rx="0.5" fill="#f7c908"/>
<rect x="255.05" y="167.70" width="3.5" height="3.5" rx="0.5" fill="#f7c908"/>
<rect x="262.05" y="167.70" width="3.5" height="3.5" rx="0.5" fill="#e95a8f"/>
<rect x="282.05" y="167.70" width="3.5" height="3.5" rx="0.5" fill="#f7c908"/>
<rect x="297.45" y="167.70" width="3.5" height="3.5" rx="0.5" fill="#f7c908"/>
<rect x="329.05" y="167.70" width="3.5" height="3.5" rx="0.5" fill="#e95a8f"/>
<rect x="337.45" y="167.70" width="3.5" height="3.5" rx="0.5" fill="#e95a8f"/>
<rect x="334.35" y="167.70" width="3.5" height="3.5" rx="0.5" fill="#f7c908"/>
<rect x="217.75" y="173.16" width="3.5" height="3.5" rx="0.5" fill="#6cb83a"/>
<rect x="223.05" y="173.16" width="3.5" height="3.5" rx="0.5" fill="#6cb83a"/>
<rect x="231.75" y="173.16" width="3.5" height="3.5" rx="0.5" fill="#46bb84"/>
<rect x="234.85" y="173.16" width="3.5" height="3.5" rx="0.5" fill="#f190b2"/>
<rect x="240.65" y="173.16" width="3.5" height="3.5" rx="0.5" fill="#c8581f"/>
<rect x="246.55" y="173.16" width="3.5" height="3.5" rx="0.5" fill="#5c3d97"/>
<rect x="271.35" y="173.16" width="3.5" height="3.5" rx="0.5" fill="#e30d26"/>
<rect x="297.25" y="173.16" width="3.5" height="3.5" rx="0.5" fill="#46bb84"/>
<rect x="302.05" y="173.16" width="3.5" height="3.5" rx="0.5" fill="#5c3d97"/>
<rect x="310.45" y="173.16" width="3.5" height="3.5" rx="0.5" fill="#948bc4"/>
<rect x="329.15" y="173.16" width="3.5" height="3.5" rx="0.5" fill="#5c3d97"/>
<rect x="333.25" y="173.16" width="3.5" height="3.5" rx="0.5" fill="#e95a8f"/>
<rect x="345.65" y="173.16" width="3.5" height="3.5" rx="0.5" fill="#0b0b3d"/>
<rect x="199.25" y="178.61" width="3.5" height="3.5" rx="0.5" fill="#948bc4"/>
<rect x="198.05" y="178.61" width="3.5" height="3.5" rx="0.5" fill="#e30d26"/>
<rect x="208.10" y="178.61" width="3.5" height="3.5" rx="0.5" fill="#6cb83a"/>
<rect x="215.75" y="178.61" width="3.5" height="3.5" rx="0.5" fill="#e95a8f"/>
<rect x="213.45" y="178.61" width="3.5" height="3.5" rx="0.5" fill="#e30d26"/>
<rect x="247.45" y="178.61" width="3.5" height="3.5" rx="0.5" fill="#f190b2"/>
<rect x="237.05" y="178.61" width="3.5" height="3.5" rx="0.5" fill="#e30d26"/>
<rect x="242.45" y="178.61" width="3.5" height="3.5" rx="0.5" fill="#6cb83a"/>
<rect x="245.85" y="178.61" width="3.5" height="3.5" rx="0.5" fill="#a3d670"/>
<rect x="253.15" y="178.61" width="3.5" height="3.5" rx="0.5" fill="#10887a"/>
<rect x="256.25" y="178.61" width="3.5" height="3.5" rx="0.5" fill="#c8581f"/>
<rect x="258.45" y="178.61" width="3.5" height="3.5" rx="0.5" fill="#6cb83a"/>
<rect x="261.05" y="178.61" width="3.5" height="3.5" rx="0.5" fill="#f7c908"/>
<rect x="302.35" y="178.61" width="3.5" height="3.5" rx="0.5" fill="#e35c4e"/>
<rect x="308.45" y="178.61" width="3.5" height="3.5" rx="0.5" fill="#e95a8f"/>
<rect x="316.55" y="178.61" width="3.5" height="3.5" rx="0.5" fill="#e35c4e"/>
<rect x="319.85" y="178.61" width="3.5" height="3.5" rx="0.5" fill="#5e0c0e"/>
<rect x="323.25" y="178.61" width="3.5" height="3.5" rx="0.5" fill="#6cb83a"/>
<rect x="332.85" y="178.61" width="3.5" height="3.5" rx="0.5" fill="#b07a42"/>
<rect x="330.85" y="178.61" width="3.5" height="3.5" rx="0.5" fill="#46bb84"/>
<rect x="343.25" y="178.61" width="3.5" height="3.5" rx="0.5" fill="#f7c908"/>
<rect x="214.95" y="184.07" width="3.5" height="3.5" rx="0.5" fill="#5c3d97"/>
<rect x="220.05" y="184.07" width="3.5" height="3.5" rx="0.5" fill="#5c3d97"/>
<rect x="229.05" y="184.07" width="3.5" height="3.5" rx="0.5" fill="#46bb84"/>
<rect x="243.25" y="184.07" width="3.5" height="3.5" rx="0.5" fill="#10887a"/>
<rect x="273.55" y="184.07" width="3.5" height="3.5" rx="0.5" fill="#46bb84"/>
<rect x="279.85" y="184.07" width="3.5" height="3.5" rx="0.5" fill="#f7c908"/>
<rect x="296.25" y="184.07" width="3.5" height="3.5" rx="0.5" fill="#c00c16"/>
<rect x="310.75" y="184.07" width="3.5" height="3.5" rx="0.5" fill="#b07a42"/>
<rect x="314.20" y="184.07" width="4.8" height="3.5" rx="0.5" fill="#6cb83a"/>
<rect x="324.05" y="184.07" width="3.5" height="3.5" rx="0.5" fill="#10887a"/>
<rect x="334.35" y="184.07" width="3.5" height="3.5" rx="0.5" fill="#46bb84"/>
<rect x="343.15" y="184.07" width="3.5" height="3.5" rx="0.5" fill="#10887a"/>
<rect x="353.15" y="184.07" width="3.5" height="3.5" rx="0.5" fill="#e30d26"/>
<rect x="350.55" y="184.07" width="3.5" height="3.5" rx="0.5" fill="#14aaf0"/>
<rect x="216.15" y="189.52" width="3.5" height="3.5" rx="0.5" fill="#f7c908"/>
<rect x="245.25" y="189.52" width="3.5" height="3.5" rx="0.5" fill="#e95a8f"/>
<rect x="313.75" y="189.52" width="3.5" height="3.5" rx="0.5" fill="#46bb84"/>
<rect x="330.25" y="189.52" width="3.5" height="3.5" rx="0.5" fill="#f7c908"/>
<rect x="349.65" y="189.52" width="3.5" height="3.5" rx="0.5" fill="#7b8b5b"/>
<rect x="205.55" y="194.98" width="3.5" height="3.5" rx="0.5" fill="#46bb84"/>
<rect x="218.75" y="194.98" width="3.5" height="3.5" rx="0.5" fill="#c00c16"/>
<rect x="228.75" y="194.98" width="3.5" height="3.5" rx="0.5" fill="#b07a42"/>
<rect x="231.75" y="194.98" width="3.5" height="3.5" rx="0.5" fill="#a3d670"/>
<rect x="314.25" y="194.98" width="3.5" height="3.5" rx="0.5" fill="#f7c908"/>
<rect x="317.55" y="194.98" width="3.5" height="3.5" rx="0.5" fill="#e30d26"/>
<rect x="322.90" y="194.98" width="4.4" height="3.5" rx="0.5" fill="#f7c908"/>
<rect x="337.90" y="194.98" width="3.5" height="3.5" rx="0.5" fill="#f7c908"/>
<rect x="343.55" y="194.98" width="3.5" height="3.5" rx="0.5" fill="#e30d26"/>
<rect x="194.35" y="200.43" width="3.5" height="3.5" rx="0.5" fill="#e95a8f"/>
<rect x="201.65" y="200.43" width="3.5" height="3.5" rx="0.5" fill="#6cb83a"/>
<rect x="209.35" y="200.43" width="3.5" height="3.5" rx="0.5" fill="#176010"/>
<rect x="207.35" y="200.43" width="3.5" height="3.5" rx="0.5" fill="#c00c16"/>
<rect x="217.55" y="200.43" width="3.5" height="3.5" rx="0.5" fill="#a3d670"/>
<rect x="221.55" y="200.43" width="3.5" height="3.5" rx="0.5" fill="#f7c908"/>
<rect x="270.85" y="200.43" width="3.5" height="3.5" rx="0.5" fill="#f7c908"/>
<rect x="286.75" y="200.43" width="3.5" height="3.5" rx="0.5" fill="#b07a42"/>
<rect x="289.35" y="200.43" width="3.5" height="3.5" rx="0.5" fill="#10887a"/>
<rect x="296.25" y="200.43" width="3.5" height="3.5" rx="0.5" fill="#6cb83a"/>
<rect x="310.75" y="200.43" width="3.5" height="3.5" rx="0.5" fill="#f59d14"/>
<rect x="314.25" y="200.43" width="3.5" height="3.5" rx="0.5" fill="#5c3d97"/>
<rect x="315.75" y="200.43" width="3.5" height="3.5" rx="0.5" fill="#e95a8f"/>
<rect x="336.55" y="200.43" width="3.5" height="3.5" rx="0.5" fill="#e30d26"/>
<rect x="334.25" y="200.43" width="3.5" height="3.5" rx="0.5" fill="#f7c908"/>
<rect x="331.45" y="200.43" width="3.5" height="3.5" rx="0.5" fill="#46bb84"/>
<rect x="328.35" y="200.43" width="3.5" height="3.5" rx="0.5" fill="#e30d26"/>
<rect x="258.85" y="205.89" width="3.5" height="3.5" rx="0.5" fill="#e30d26"/>
<rect x="264.30" y="205.89" width="3.5" height="3.5" rx="0.5" fill="#5c3d97"/>
<rect x="271.25" y="205.89" width="3.5" height="3.5" rx="0.5" fill="#e95a8f"/>
<rect x="281.70" y="205.89" width="3.5" height="3.5" rx="0.5" fill="#5c3d97"/>
<rect x="284.75" y="205.89" width="3.5" height="3.5" rx="0.5" fill="#b07a42"/>
<rect x="297.75" y="205.89" width="3.5" height="3.5" rx="0.5" fill="#5c3d97"/>
<rect x="312.55" y="205.89" width="3.5" height="3.5" rx="0.5" fill="#b07a42"/>
<rect x="319.85" y="205.89" width="3.5" height="3.5" rx="0.5" fill="#c00c16"/>
<rect x="331.35" y="205.89" width="3.5" height="3.5" rx="0.5" fill="#c00c16"/>
<rect x="353.45" y="205.89" width="3.5" height="3.5" rx="0.5" fill="#f59d14"/>
<rect x="198.15" y="211.34" width="3.5" height="3.5" rx="0.5" fill="#f7c908"/>
<rect x="213.15" y="211.34" width="3.5" height="3.5" rx="0.5" fill="#b07a42"/>
<rect x="216.50" y="211.34" width="3.5" height="3.5" rx="0.5" fill="#46bb84"/>
<rect x="228.75" y="211.34" width="3.5" height="3.5" rx="0.5" fill="#e95a8f"/>
<rect x="248.15" y="211.34" width="3.5" height="3.5" rx="0.5" fill="#e30d26"/>
<rect x="256.25" y="211.34" width="3.5" height="3.5" rx="0.5" fill="#5c3d97"/>
<rect x="260.85" y="211.34" width="3.5" height="3.5" rx="0.5" fill="#5c3d97"/>
<rect x="263.85" y="211.34" width="3.5" height="3.5" rx="0.5" fill="#f7c908"/>
<rect x="267.45" y="211.34" width="3.5" height="3.5" rx="0.5" fill="#e95a8f"/>
<rect x="271.55" y="211.34" width="3.5" height="3.5" rx="0.5" fill="#46bb84"/>
<rect x="277.85" y="211.34" width="3.5" height="3.5" rx="0.5" fill="#948bc4"/>
<rect x="281.70" y="211.34" width="3.5" height="3.5" rx="0.5" fill="#e95a8f"/>
<rect x="291.35" y="211.34" width="3.5" height="3.5" rx="0.5" fill="#f7c908"/>
<rect x="322.95" y="211.34" width="3.5" height="3.5" rx="0.5" fill="#e95a8f"/>
<rect x="325.95" y="211.34" width="3.5" height="3.5" rx="0.5" fill="#c8581f"/>
<rect x="328.25" y="211.34" width="3.5" height="3.5" rx="0.5" fill="#5e0c0e"/>
<rect x="349.65" y="211.34" width="3.5" height="3.5" rx="0.5" fill="#5c3d97"/>
<rect x="351.65" y="211.34" width="3.5" height="3.5" rx="0.5" fill="#e95a8f"/>
<rect x="198.15" y="216.80" width="3.5" height="3.5" rx="0.5" fill="#6cb83a"/>
<rect x="215.75" y="216.80" width="3.5" height="3.5" rx="0.5" fill="#6cb83a"/>
<rect x="221.85" y="216.80" width="3.5" height="3.5" rx="0.5" fill="#5c3d97"/>
<rect x="236.65" y="216.80" width="3.5" height="3.5" rx="0.5" fill="#5c3d97"/>
<rect x="242.15" y="216.80" width="3.5" height="3.5" rx="0.5" fill="#6cb83a"/>
<rect x="251.35" y="216.80" width="3.5" height="3.5" rx="0.5" fill="#f7c908"/>
<rect x="289.65" y="216.80" width="3.5" height="3.5" rx="0.5" fill="#6cb83a"/>
<rect x="298.85" y="216.80" width="3.5" height="3.5" rx="0.5" fill="#7b8b5b"/>
<rect x="338.25" y="216.80" width="3.5" height="3.5" rx="0.5" fill="#6cb83a"/>
<rect x="344.75" y="216.80" width="3.5" height="3.5" rx="0.5" fill="#f7c908"/>
<rect x="207.05" y="222.25" width="3.5" height="3.5" rx="0.5" fill="#20cbc0"/>
<rect x="209.15" y="222.25" width="3.5" height="3.5" rx="0.5" fill="#948bc4"/>
<rect x="245.95" y="222.25" width="3.5" height="3.5" rx="0.5" fill="#10887a"/>
<rect x="251.35" y="222.25" width="3.5" height="3.5" rx="0.5" fill="#1a34e0"/>
<rect x="286.75" y="222.25" width="3.5" height="3.5" rx="0.5" fill="#e95a8f"/>
<rect x="290.55" y="222.25" width="3.5" height="3.5" rx="0.5" fill="#e95a8f"/>
<rect x="296.65" y="222.25" width="3.5" height="3.5" rx="0.5" fill="#5c3d97"/>
<rect x="319.15" y="222.25" width="3.5" height="3.5" rx="0.5" fill="#46bb84"/>
<rect x="322.95" y="222.25" width="3.5" height="3.5" rx="0.5" fill="#e95a8f"/>
<rect x="327.95" y="222.25" width="3.5" height="3.5" rx="0.5" fill="#5c3d97"/>
<rect x="331.75" y="222.25" width="3.5" height="3.5" rx="0.5" fill="#e95a8f"/>
<rect x="203.95" y="227.71" width="3.5" height="3.5" rx="0.5" fill="#46bb84"/>
<rect x="243.55" y="227.71" width="3.5" height="3.5" rx="0.5" fill="#f7c908"/>
<rect x="246.25" y="227.71" width="3.5" height="3.5" rx="0.5" fill="#e95a8f"/>
<rect x="252.65" y="227.71" width="3.5" height="3.5" rx="0.5" fill="#c8581f"/>
<rect x="265.65" y="227.71" width="3.5" height="3.5" rx="0.5" fill="#6cb83a"/>
<rect x="270.85" y="227.71" width="3.5" height="3.5" rx="0.5" fill="#6cb83a"/>
<rect x="293.15" y="227.71" width="3.5" height="3.5" rx="0.5" fill="#f59d14"/>
<rect x="298.50" y="227.71" width="3.5" height="3.5" rx="0.5" fill="#f59d14"/>
<rect x="300.75" y="227.71" width="3.5" height="3.5" rx="0.5" fill="#c8581f"/>
<rect x="303.35" y="227.71" width="3.5" height="3.5" rx="0.5" fill="#6cb83a"/>
<rect x="310.45" y="227.71" width="3.5" height="3.5" rx="0.5" fill="#f59d14"/>
<rect x="322.95" y="227.71" width="3.5" height="3.5" rx="0.5" fill="#6cb83a"/>
<rect x="327.05" y="227.71" width="3.5" height="3.5" rx="0.5" fill="#e95a8f"/>
<rect x="332.25" y="227.71" width="3.5" height="3.5" rx="0.5" fill="#f59d14"/>
<rect x="333.85" y="227.71" width="3.5" height="3.5" rx="0.5" fill="#6cb83a"/>
</g>
<g stroke="#161616" stroke-width="0.9" fill="none">
<line x1="193.80" y1="234.40" x2="355.50" y2="234.40"/>
<line x1="193.80" y1="234.40" x2="193.80" y2="236.30"/>
<line x1="209.97" y1="234.40" x2="209.97" y2="236.30"/>
<line x1="226.14" y1="234.40" x2="226.14" y2="236.30"/>
<line x1="242.31" y1="234.40" x2="242.31" y2="236.30"/>
<line x1="258.48" y1="234.40" x2="258.48" y2="236.30"/>
<line x1="274.65" y1="234.40" x2="274.65" y2="236.30"/>
<line x1="290.82" y1="234.40" x2="290.82" y2="236.30"/>
<line x1="306.99" y1="234.40" x2="306.99" y2="236.30"/>
<line x1="323.16" y1="234.40" x2="323.16" y2="236.30"/>
<line x1="339.33" y1="234.40" x2="339.33" y2="236.30"/>
<line x1="355.50" y1="234.40" x2="355.50" y2="236.30"/>
</g>
<g class="ax" text-anchor="middle">
<text x="193.80" y="242.20">0</text>
<text x="209.97" y="242.20">200</text>
<text x="226.14" y="242.20">400</text>
<text x="242.31" y="242.20">600</text>
<text x="258.48" y="242.20">800</text>
<text x="274.65" y="242.20">1000</text>
<text x="290.82" y="242.20">1200</text>
<text x="306.99" y="242.20">1400</text>
<text x="323.16" y="242.20">1600</text>
<text x="339.33" y="242.20">1800</text>
<text x="355.50" y="242.20">2000</text>
<text x="190.6" y="235.9">5'</text>
<text x="358.6" y="235.9">3'</text>
</g>
<rect x="360.70" y="7.70" width="11.80" height="3.90" fill="#6cb83a"/>
<rect x="360.70" y="14.70" width="11.80" height="3.90" fill="#f7c908"/>
<rect x="360.70" y="21.70" width="11.80" height="3.90" fill="#e95a8f"/>
<rect x="360.70" y="28.70" width="11.80" height="3.90" fill="#10887a"/>
<rect x="360.70" y="35.70" width="11.80" height="3.90" fill="#e30d26"/>
<rect x="360.70" y="42.70" width="11.80" height="3.90" fill="#948bc4"/>
<rect x="360.70" y="49.70" width="11.80" height="3.90" fill="#a3d670"/>
<rect x="360.70" y="56.70" width="11.80" height="3.90" fill="#f59d14"/>
<rect x="360.70" y="63.70" width="11.80" height="3.90" fill="#5c3d97"/>
<rect x="360.70" y="70.70" width="11.80" height="3.90" fill="#f8ba90"/>
<rect x="360.70" y="77.70" width="11.80" height="3.90" fill="#c8581f"/>
<rect x="360.70" y="84.70" width="11.80" height="3.90" fill="#46bb84"/>
<rect x="360.70" y="91.70" width="11.80" height="3.90" fill="#f190b2"/>
<rect x="360.70" y="98.70" width="11.80" height="3.90" fill="#1269d0"/>
<rect x="360.70" y="105.70" width="11.80" height="3.90" fill="#c00c16"/>
<rect x="360.70" y="112.70" width="11.80" height="3.90" fill="#72902a"/>
<rect x="360.70" y="119.70" width="11.80" height="3.90" fill="#0b0b3d"/>
<rect x="360.70" y="126.70" width="11.80" height="3.90" fill="#b07a42"/>
<rect x="360.70" y="133.70" width="11.80" height="3.90" fill="#14aaf0"/>
<rect x="360.70" y="140.70" width="11.80" height="3.90" fill="#1a34e0"/>
<rect x="360.70" y="147.70" width="11.80" height="3.90" fill="#176010"/>
<rect x="360.70" y="154.70" width="11.80" height="3.90" fill="#e35c4e"/>
<rect x="360.70" y="161.70" width="11.80" height="3.90" fill="#0e6aba"/>
<rect x="360.70" y="168.70" width="11.80" height="3.90" fill="#e434ba"/>
<rect x="360.70" y="175.70" width="11.80" height="3.90" fill="#189ae0"/>
<rect x="360.70" y="182.70" width="11.80" height="3.90" fill="#20cbc0"/>
<g class="lg">
<text x="375.10" y="11.60" xml:space="preserve">cis-acting element involved in the abscisic acid responsiveness</text>
<text x="375.10" y="18.60" xml:space="preserve">cis-acting regulatory element essential for the anaerobic induction</text>
<text x="375.10" y="25.60" xml:space="preserve">cis-acting regulatory element involved in light responsiveness</text>
<text x="375.10" y="32.60" xml:space="preserve">gibberellin-responsive element</text>
<text x="375.10" y="39.60" xml:space="preserve">cis-acting element involved in low-temperature responsiveness</text>
<text x="375.10" y="46.60" xml:space="preserve">cis-acting element involved in salicylic acid responsiveness</text>
<text x="375.10" y="53.60" xml:space="preserve">auxin-responsive element</text>
<text x="375.10" y="60.60" xml:space="preserve">cis-acting element involved in defense and stress responsiveness</text>
<text x="375.10" y="67.60" xml:space="preserve">cis-acting regulatory element involved in the MeJA-responsiveness</text>
<text x="375.10" y="74.60" xml:space="preserve">cis-regulatory element involved in endosperm expression</text>
<text x="375.10" y="81.60" xml:space="preserve">MYB binding site involved in drought-inducibility</text>
<text x="375.10" y="88.60" xml:space="preserve">light responsive element</text>
<text x="375.10" y="95.60" xml:space="preserve">cis-acting regulatory element related to meristem expression</text>
<text x="375.10" y="102.60" xml:space="preserve">common cis-acting element in promoter and enhancer regions</text>
<text x="375.10" y="109.60" xml:space="preserve">cis-acting regulatory element involved in circadian control</text>
<text x="375.10" y="116.60" xml:space="preserve">cis-acting regulatory element involved in auxin responsiveness</text>
<text x="375.10" y="123.60" xml:space="preserve">cis-acting regulatory element involved in zein metabolism regulation</text>
<text x="375.10" y="130.60" xml:space="preserve">MYB binding site involved in light responsiveness</text>
<text x="375.10" y="137.60" xml:space="preserve">element involved in differentiation of the palisade mesophyll cells</text>
<text x="375.10" y="144.60" xml:space="preserve">cis-acting regulatory element involved in seed-specific regulation</text>
<text x="375.10" y="151.60" xml:space="preserve">wound-responsive element</text>
<text x="375.10" y="158.60" xml:space="preserve">enhancer-like element involved in anoxic specific inducibility</text>
<text x="375.10" y="165.60" xml:space="preserve">MYB binding site involved in flavonoid biosynthetic genes regulation</text>
<text x="375.10" y="172.60" xml:space="preserve">cis-acting element involved in gibberellin-responsiveness</text>
<text x="375.10" y="179.60" xml:space="preserve">cis-acting element involved in cell cycle regulation</text>
<text x="375.10" y="186.60" xml:space="preserve">cis-acting element involved in phytochrome down-regulation  expression</text>
</g>
</svg></body></html>
